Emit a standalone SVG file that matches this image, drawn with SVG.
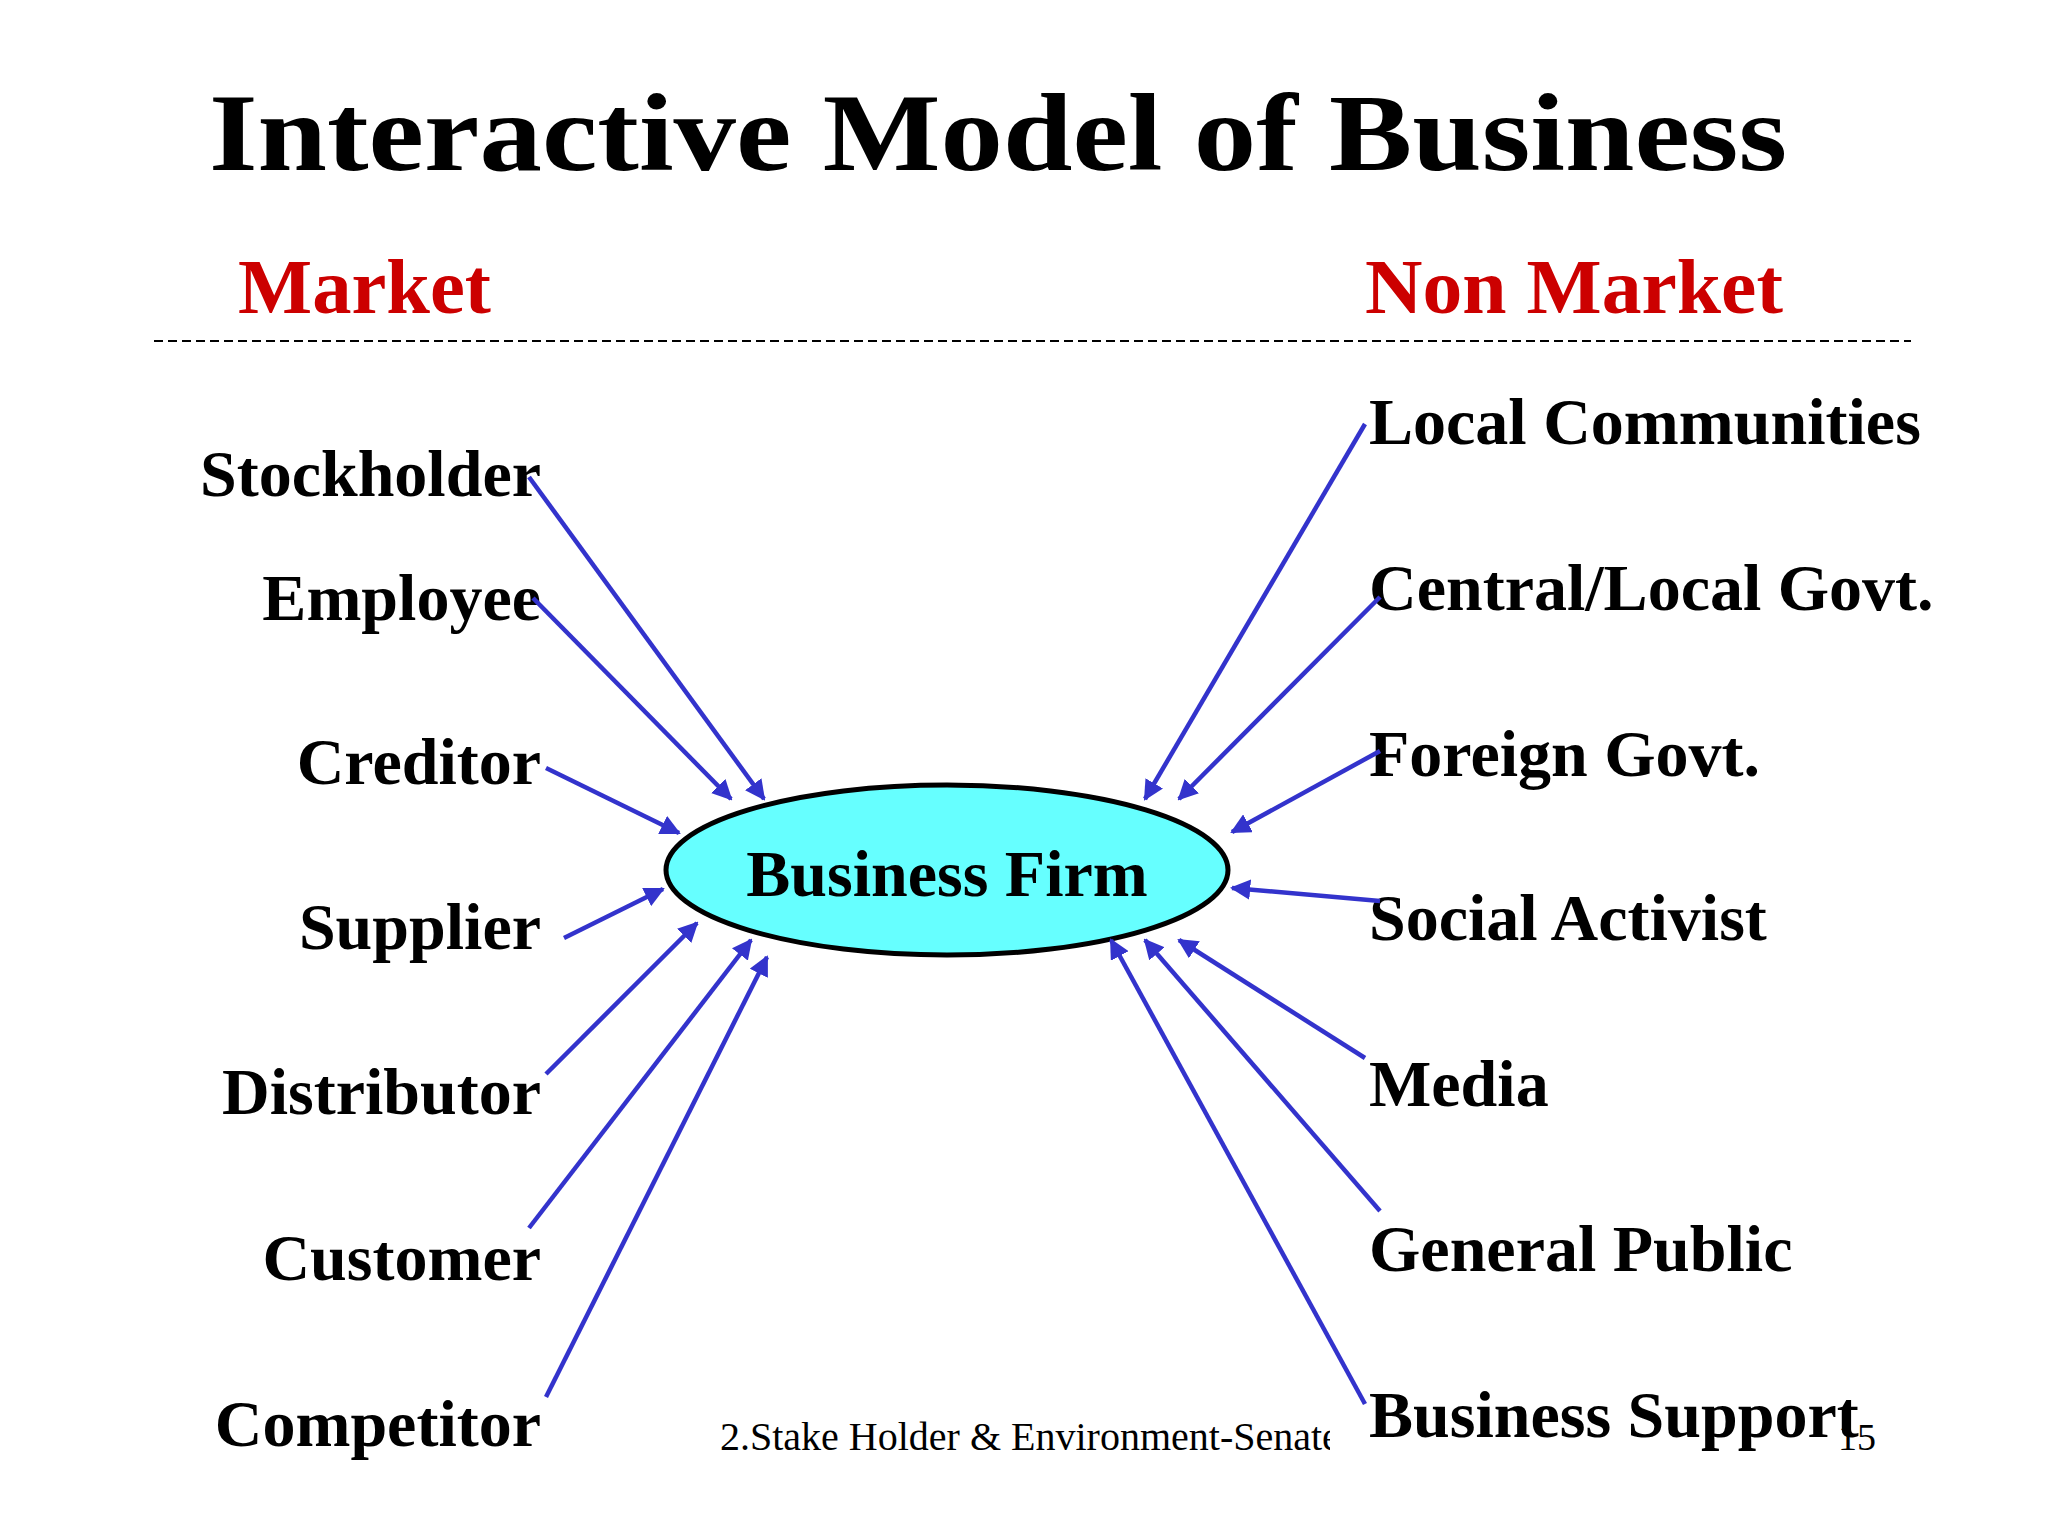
<svg xmlns="http://www.w3.org/2000/svg" width="2048" height="1536" viewBox="0 0 2048 1536">
<style>
text{font-family:"Liberation Serif","Times New Roman",serif}
.t{font-weight:bold;font-size:66px;fill:#000}
.l{text-anchor:end}
.h{font-weight:bold;font-size:78px;fill:#CC0000}
.c line{stroke:#3333CC;stroke-width:4.5;marker-end:url(#a)}
</style>
<defs>
<marker id="a" viewBox="0 0 10 10" refX="9" refY="5" markerWidth="4.5" markerHeight="4.5" orient="auto" markerUnits="strokeWidth"><path d="M0,0 L10,5 L0,10 z" fill="#3333CC"/></marker>
<clipPath id="fc"><rect x="700" y="1400" width="630" height="80"/></clipPath>
</defs>
<rect width="2048" height="1536" fill="#fff"/>
<text x="209" y="170" font-size="110" font-weight="bold" textLength="1578" lengthAdjust="spacingAndGlyphs">Interactive Model of Business</text>
<text class="h" x="238" y="313" textLength="253" lengthAdjust="spacingAndGlyphs">Market</text>
<text class="h" x="1365" y="313" textLength="418" lengthAdjust="spacingAndGlyphs">Non Market</text>
<line x1="154" y1="341" x2="1911" y2="341" stroke="#000" stroke-width="2" stroke-dasharray="9,5"/>
<text x="720" y="1450" font-size="40" clip-path="url(#fc)">2.Stake Holder &amp; Environment-Senate</text>
<text x="1838" y="1450" font-size="38">15</text>
<g id="firm"><ellipse cx="947" cy="870" rx="281" ry="85" fill="#66FFFF" stroke="#000" stroke-width="5"/>
<text class="t" x="947" y="896" text-anchor="middle">Business Firm</text></g>
<g id="left">
<text class="t l" x="541" y="496">Stockholder</text>
<text class="t l" x="541" y="620">Employee</text>
<text class="t l" x="541" y="784">Creditor</text>
<text class="t l" x="541" y="949">Supplier</text>
<text class="t l" x="541" y="1114">Distributor</text>
<text class="t l" x="541" y="1280">Customer</text>
<text class="t l" x="541" y="1446">Competitor</text>
</g>
<g id="right">
<text class="t" x="1369" y="444">Local Communities</text>
<text class="t" x="1369" y="610">Central/Local Govt.</text>
<text class="t" x="1369" y="776">Foreign Govt.</text>
<text class="t" x="1369" y="940">Social Activist</text>
<text class="t" x="1369" y="1106">Media</text>
<text class="t" x="1369" y="1271">General Public</text>
<text class="t" x="1369" y="1437">Business Support</text>
</g>
<g class="c" id="connectors">
<line x1="529" y1="477" x2="764" y2="799"/>
<line x1="533" y1="598" x2="731" y2="799"/>
<line x1="546" y1="768" x2="679" y2="833"/>
<line x1="564" y1="938" x2="663" y2="889"/>
<line x1="546" y1="1074" x2="697" y2="923"/>
<line x1="529" y1="1228" x2="751" y2="940"/>
<line x1="546" y1="1397" x2="767" y2="957"/>
<line x1="1365" y1="424" x2="1145" y2="799"/>
<line x1="1380" y1="597" x2="1179" y2="799"/>
<line x1="1380" y1="751" x2="1232" y2="832"/>
<line x1="1380" y1="901" x2="1232" y2="888"/>
<line x1="1365" y1="1058" x2="1179" y2="940"/>
<line x1="1380" y1="1211" x2="1145" y2="940"/>
<line x1="1365" y1="1404" x2="1111" y2="940"/>
</g>
</svg>
